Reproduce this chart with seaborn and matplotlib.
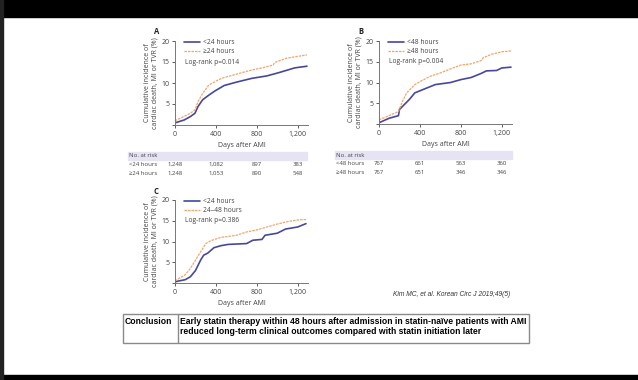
import numpy as np
import pandas as pd
import seaborn as sns
import matplotlib.pyplot as plt
from matplotlib.patches import Rectangle
import matplotlib.transforms as mtransforms

# Kaplan-Meier style cumulative incidence (%)
a_days_early = [0, 90, 150, 195, 225, 270, 330, 390, 480, 600, 750, 900, 1020, 1170, 1290]
a_vals_early = [0.5, 1.2, 2.0, 2.8, 4.4, 6.0, 7.1, 8.1, 9.4, 10.2, 11.1, 11.7, 12.5, 13.6, 14.0]
a_days_late = [0, 150, 195, 225, 270, 330, 420, 480, 600, 750, 870, 960, 975, 1090, 1290]
a_vals_late = [1.0, 2.8, 3.6, 5.6, 7.5, 9.5, 10.7, 11.3, 12.1, 13.1, 13.7, 14.3, 14.9, 15.9, 16.7]

b_days_early = [0, 100, 190, 200, 260, 300, 350, 400, 500, 550, 700, 800, 900, 1000, 1050, 1150, 1200, 1290]
b_vals_early = [0.3, 1.4, 2.0, 3.5, 5.0, 6.0, 7.5, 8.0, 9.0, 9.5, 10.0, 10.7, 11.2, 12.2, 12.8, 12.9, 13.5, 13.7]
b_days_late = [0, 190, 230, 270, 350, 400, 500, 600, 700, 800, 900, 1000, 1020, 1100, 1200, 1290]
b_vals_late = [1.0, 3.0, 5.5, 7.5, 9.5, 10.2, 11.5, 12.3, 13.3, 14.2, 14.5, 15.3, 16.0, 16.8, 17.4, 17.6]

c_days_early = [0, 100, 150, 200, 250, 280, 320, 380, 450, 520, 700, 760, 850, 880, 1000, 1080, 1200, 1280]
c_vals_early = [0.3, 0.8, 1.5, 3.0, 5.5, 6.7, 7.2, 8.5, 9.0, 9.3, 9.5, 10.3, 10.5, 11.5, 12.0, 13.0, 13.5, 14.3]
c_days_late = [0, 100, 150, 200, 250, 300, 350, 450, 600, 700, 800, 900, 1000, 1100, 1200, 1290]
c_vals_late = [0.5, 2.0, 3.5, 5.5, 7.5, 9.5, 10.2, 11.0, 11.5, 12.3, 12.8, 13.5, 14.2, 14.8, 15.2, 15.3]

risk_days = [0, 400, 800, 1200]
a_risk_labels = ["<24 hours", "\u226524 hours"]
a_risk_early = ["1,248", "1,082", "897", "383"]
a_risk_late = ["1,248", "1,053", "890", "548"]
b_risk_labels = ["<48 hours", "\u226548 hours"]
b_risk_early = ["767", "661", "563", "360"]
b_risk_late = ["767", "651", "346", "346"]
c_labels = ["<24 hours", "24\u201348 hours"]

blue = "#47479c"
orange = "#f2a56c"
tc = "#444444"

sns.set_style("ticks")
plt.rcParams['font.family'] = ['Open Sans', 'DejaVu Sans']

W, H = 638, 380
fig = plt.figure(figsize=(W / 100, H / 100), dpi=100)
fig.patch.set_facecolor("white")


def px(x0, y0, x1, y1):
    # pixel box -> figure fraction rect
    return [x0 / W, 1 - y1 / H, (x1 - x0) / W, (y1 - y0) / H]


# black slide bars
fig.patches.append(Rectangle((0, 1 - 17 / H), 1, 17 / H, transform=fig.transFigure, color="black", zorder=0))
fig.patches.append(Rectangle((0, 0), 1, 5 / H, transform=fig.transFigure, color="black", zorder=0))
fig.patches.append(Rectangle((0, 0), 3 / W, 1, transform=fig.transFigure, color="#222222", zorder=0))


def km_panel(box, d1, v1, d2, v2, labels, ptext, letter):
    ax = fig.add_axes(px(*box))
    df = pd.concat([
        pd.DataFrame({"day": d1, "val": v1, "grp": labels[0]}),
        pd.DataFrame({"day": d2, "val": v2, "grp": labels[1]}),
    ])
    sns.lineplot(data=df[df.grp == labels[0]], x="day", y="val", ax=ax, color=blue, lw=1.2, label=labels[0])
    sns.lineplot(data=df[df.grp == labels[1]], x="day", y="val", ax=ax, color=orange, lw=0.9,
                 ls=(0, (2, 0.8)), label=labels[1])
    ax.set_xlim(0, 1300)
    ax.set_ylim(0, 20)
    ax.set_xticks([0, 400, 800, 1200])
    ax.set_xticklabels(["0", "400", "800", "1,200"])
    ax.set_yticks([0, 5, 10, 15, 20])
    ax.set_yticklabels(["", "5", "10", "15", "20"])
    ax.tick_params(labelsize=5, length=2, width=0.6, colors=tc, pad=2)
    for s in ["left", "bottom"]:
        ax.spines[s].set_color("#777777")
        ax.spines[s].set_linewidth(0.7)
    sns.despine(ax=ax)
    ax.set_xlabel("Days after AMI", fontsize=5, color=tc, labelpad=3)
    ax.set_ylabel("Cumulative incidence of\ncardiac death, MI or TVR (%)", fontsize=5, color=tc,
                  labelpad=2, linespacing=1.1)
    leg = ax.legend(loc="upper left", frameon=False, fontsize=4.8, handlelength=2.4,
                    borderaxespad=0.1, labelspacing=0.3, handletextpad=0.5, bbox_to_anchor=(0.04, 1.06))
    for t in leg.get_texts():
        t.set_color(tc)
    ax.text(0.075, 0.75, ptext, transform=ax.transAxes, fontsize=4.8, color=tc, va="center")
    fig.text((box[0] - 21) / W, 1 - (box[1] - 9) / H, letter, fontsize=5.5, fontweight="bold",
             color="#222222", va="center")
    return ax


def risk_table(ax, x0, x1, ybar, labels, r1, r2):
    fig.patches.append(Rectangle((x0 / W, 1 - (ybar + 4) / H), (x1 - x0) / W, 8 / H,
                                 transform=fig.transFigure, color="#e6e4f4", zorder=0))
    fig.text(x0 / W + 0.002, 1 - ybar / H, "No. at risk", fontsize=4.3, color=tc, va="center")
    tr = mtransforms.blended_transform_factory(ax.transData, fig.transFigure)
    for row, (lab, vals) in enumerate(zip(labels, [r1, r2])):
        yy = 1 - (ybar + 8.5 + 9 * row) / H
        fig.text(x0 / W + 0.002, yy, lab, fontsize=4.3, color=tc, va="center")
        for d, v in zip(risk_days, vals):
            ax.text(d, yy, v, transform=tr, fontsize=4.3, color=tc, va="center", ha="center")


ax_a = km_panel((175, 41, 308, 125), a_days_early, a_vals_early, a_days_late, a_vals_late,
                a_risk_labels, "Log-rank p=0.014", "A")
ax_b = km_panel((379, 41, 512, 124), b_days_early, b_vals_early, b_days_late, b_vals_late,
                b_risk_labels, "Log-rank p=0.004", "B")
ax_c = km_panel((175, 200, 308, 283), c_days_early, c_vals_early, c_days_late, c_vals_late,
                c_labels, "Log-rank p=0.386", "C")

risk_table(ax_a, 128, 307, 156, a_risk_labels, a_risk_early, a_risk_late)
risk_table(ax_b, 335, 512, 155, b_risk_labels, b_risk_early, b_risk_late)

fig.text(393 / W, 1 - 295 / H, "Kim MC, et al. Korean Circ J 2019;49(5)", fontsize=4.8,
         style="italic", color="#333333", va="center", family=["Liberation Sans", "DejaVu Sans"])

# conclusion box
fig.patches.append(Rectangle((123 / W, 1 - 343 / H), (529 - 123) / W, 29 / H, transform=fig.transFigure,
                             fill=False, ec="#8a8a8a", lw=1.0))
fig.lines.append(plt.Line2D([178 / W, 178 / W], [1 - 314 / H, 1 - 343 / H], transform=fig.transFigure,
                            color="#8a8a8a", lw=1.0))
bold = dict(fontsize=6.2, fontweight="bold", color="black", va="center",
            family=["Liberation Sans", "DejaVu Sans"])
fig.text(125 / W, 1 - 321 / H, "Conclusion", **bold)
fig.text(180 / W, 1 - 321 / H, "Early statin therapy within 48 hours after admission in statin-na\u00efve patients with AMI", **bold)
fig.text(180 / W, 1 - 332 / H, "reduced long-term clinical outcomes compared with statin initiation later", **bold)

fig.savefig("out.png", dpi=100)
